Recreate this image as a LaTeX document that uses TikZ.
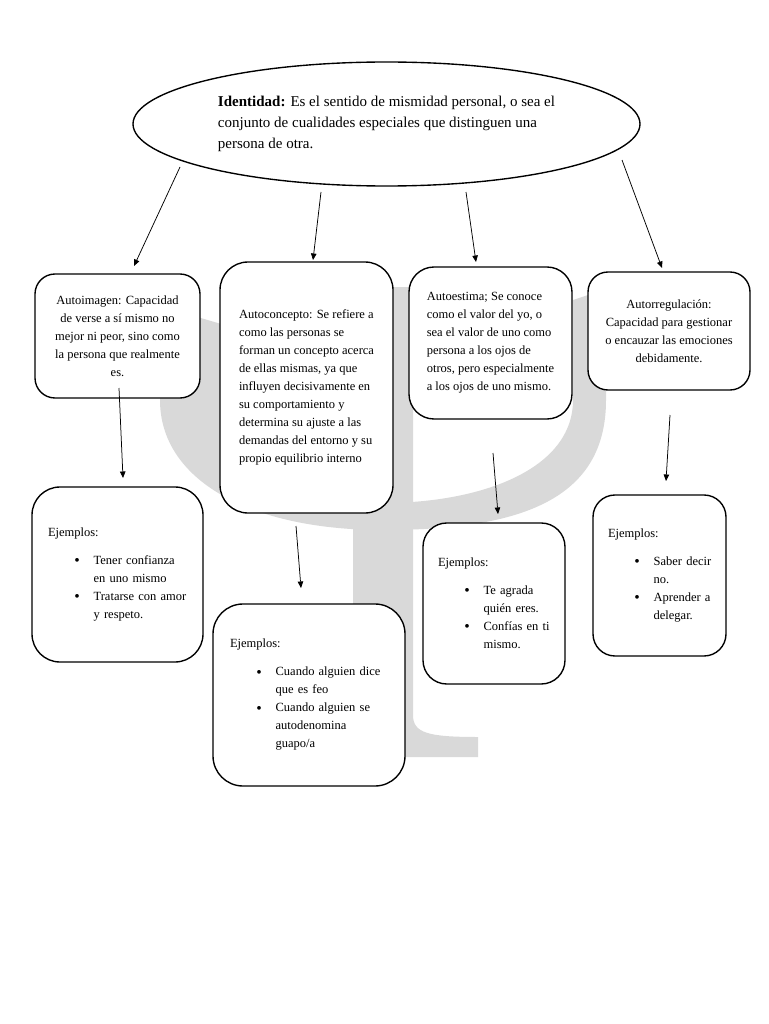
\documentclass[tikz,border=0pt]{standalone}
\usepackage{fontspec}
\setmainfont{Liberation Serif}
\usepackage{tikz}
\usetikzlibrary{shapes.geometric}
\usetikzlibrary{arrows.meta}
\definecolor{psigris}{RGB}{217,217,217}
\tikzstyle{caja}=[draw, fill=white, line width=1.1pt, inner sep=0pt, font=\fontsize{10}{14.4}\selectfont]
\tikzstyle{globo}=[ellipse, draw, fill=white, line width=1.1pt, inner sep=0pt, font=\fontsize{12}{16.8}\selectfont]
\tikzstyle{flecha}=[-{Triangle[length=5.2pt, width=4.4pt]}, line width=0.6pt]
\newcommand{\vineta}[1]{\hspace*{21pt}\makebox[15.5pt][l]{\raisebox{-0.9pt}{\fontsize{12.5}{12.5}\selectfont\textbullet}}\mbox{#1}}
\newcommand{\sigue}[1]{\hspace*{36.5pt}\mbox{#1}}

\begin{document}
\begin{tikzpicture}[x=0.8pt, y=-0.8pt]
        \fill[white] (0,0) rectangle (768,1024);
        % psi de fondo
        \fill[psigris] (353,287) -- (413,287) -- (413,715) .. controls (413,733) and (428,737) .. (478,737) -- (478,757) -- (288,757) -- (288,737) .. controls (338,737) and (353,733) .. (353,715) -- cycle;
        \fill[psigris] (160,306) -- (228,326) -- (228,400) .. controls (228,470) and (290,503) .. (383,503) .. controls (480,503) and (573,470) .. (573,400) -- (573,300) -- (606,289) -- (606,400) .. controls (606,500) and (520,530) .. (383,530) .. controls (250,530) and (160,480) .. (160,400) -- cycle;

        \node[globo, minimum width=405.6pt, minimum height=99.2pt, align=left] (Ident) at (386.5,124) {\textbf{Identidad:} Es el sentido de mismidad personal, o sea el\\conjunto de cualidades especiales que distinguen una\\persona de otra.};

        \node[caja, rounded corners=16pt, minimum width=132pt, minimum height=99.2pt, align=center] (Imagen) at (117.5,336) {Autoimagen: Capacidad\\de verse a sí mismo no\\mejor ni peor, sino como\\la persona que realmente\\es.};
        \node[caja, rounded corners=22.4pt, minimum width=138.4pt, minimum height=200.8pt, align=left] (Concepto) at (306.5,387.5) {Autoconcepto: Se refiere a\\como las personas se\\forman un concepto acerca\\de ellas mismas, ya que\\influyen decisivamente en\\su comportamiento y\\determina su ajuste a las\\demandas del entorno y su\\propio equilibrio interno};
        \node[caja, rounded corners=20pt, minimum width=130.4pt, minimum height=121.6pt, align=left] (Estima) at (490.5,343) {Autoestima; Se conoce\\como el valor del yo, o\\sea el valor de uno como\\persona a los ojos de\\otros, pero especialmente\\a los ojos de uno mismo.};
        \node[caja, rounded corners=16pt, minimum width=129.6pt, minimum height=94.4pt, align=center] (Regula) at (669,331) {Autorregulación:\\Capacidad para gestionar\\o encauzar las emociones\\debidamente.};

        \node[caja, rounded corners=22.4pt, minimum width=136.8pt, minimum height=140pt, text width=111.2pt, align=left] (ImagenEj) at (117.5,574.5) {Ejemplos:\\[8pt]\vineta{Tener confianza}\\\sigue{en uno mismo}\\\vineta{Tratarse con amor}\\\sigue{y respeto.}};
        \node[caja, rounded corners=24pt, minimum width=153.6pt, minimum height=145.6pt, text width=126.4pt, align=left] (ConceptoEj) at (309,695) {Ejemplos:\\[8pt]\vineta{Cuando alguien dice}\\\sigue{que es feo}\\\vineta{Cuando alguien se}\\\sigue{autodenomina}\\\sigue{guapo/a}};
        \node[caja, rounded corners=19pt, minimum width=113.6pt, minimum height=128.8pt, text width=89.6pt, align=left] (EstimaEj) at (494,603.5) {Ejemplos:\\[8pt]\vineta{Te agrada}\\\sigue{quién eres.}\\\vineta{Confías en ti}\\\sigue{mismo.}};
        \node[caja, rounded corners=17.6pt, minimum width=106.4pt, minimum height=128.8pt, text width=82.4pt, align=left] (RegulaEj) at (659.5,575.5) {Ejemplos:\\[8pt]\vineta{Saber decir}\\\sigue{no.}\\\vineta{Aprender a}\\\sigue{delegar.}};

        % flechas sueltas
        \coordinate (s1) at (180,167);
        \coordinate (t1) at (134,266);
        \coordinate (s2) at (321,192);
        \coordinate (t2) at (313,260);
        \coordinate (s3) at (466,192);
        \coordinate (t3) at (476,262);
        \coordinate (s4) at (622,160);
        \coordinate (t4) at (662,268);
        \coordinate (s5) at (119,388);
        \coordinate (t5) at (123,478);
        \coordinate (s6) at (296,526);
        \coordinate (t6) at (301,588);
        \coordinate (s7) at (493,453);
        \coordinate (t7) at (498,514);
        \coordinate (s8) at (670,415);
        \coordinate (t8) at (666,481);
        \draw[flecha] (s1) -- (t1);
        \draw[flecha] (s2) -- (t2);
        \draw[flecha] (s3) -- (t3);
        \draw[flecha] (s4) -- (t4);
        \draw[flecha] (s5) -- (t5);
        \draw[flecha] (s6) -- (t6);
        \draw[flecha] (s7) -- (t7);
        \draw[flecha] (s8) -- (t8);
    \end{tikzpicture}
\end{document}
